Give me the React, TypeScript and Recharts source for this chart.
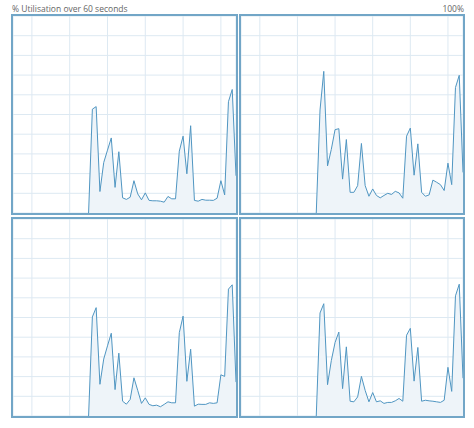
import React from "react";
import { AreaChart, Area, XAxis, YAxis, CartesianGrid } from "recharts";

// seconds shown in the window (0 = oldest, 59 = now)
const windowSeconds = 60;
// first second where samples exist
const firstSample = 20;
const gridSeconds = [5, 15, 25, 35, 45, 55];
const gridPercents = [0, 10, 20, 30, 40, 50, 60, 70, 80, 90, 100];

const headerLeft = "% Utilisation over 60 seconds";
const headerRight = "100%";

// per-core utilisation, seconds 20..59
const core0 = [
  0, 52.7, 54.0, 10.9, 25.6, 31.9, 38.1, 13.0, 31.1, 7.7,
  6.9, 8.0, 16.4, 9.7, 6.7, 10.2, 6.4, 6.2, 6.2, 6.0,
  5.5, 8.4, 7.2, 7.2, 31.4, 39.0, 19.9, 44.3, 6.4, 6.0,
  6.9, 6.5, 6.5, 6.4, 7.5, 16.4, 9.2, 56.5, 62.7, 18.9,
];
const core1 = [
  0, 52.3, 71.9, 23.9, 32.3, 42.3, 42.8, 17.2, 37.3, 10.5,
  10.5, 13.9, 35.3, 13.9, 8.5, 12.2, 8.9, 7.7, 8.9, 10.0,
  9.4, 11.0, 10.2, 7.5, 39.0, 43.1, 19.2, 35.1, 10.5, 8.5,
  9.2, 16.7, 15.6, 14.4, 11.4, 25.3, 14.4, 63.7, 69.9, 20.6,
];
const core2 = [
  0, 50.3, 55.0, 16.1, 28.9, 35.6, 42.0, 13.4, 31.9, 7.5,
  6.0, 8.4, 19.4, 13.0, 6.4, 9.2, 5.9, 5.2, 5.5, 4.7,
  5.9, 7.2, 6.7, 6.7, 42.3, 50.7, 17.6, 33.9, 5.0, 6.0,
  5.9, 5.9, 6.7, 6.4, 6.7, 20.9, 20.1, 64.4, 66.6, 17.2,
];
const core3 = [
  0, 52.3, 57.0, 15.9, 28.1, 37.3, 42.6, 13.9, 35.1, 7.5,
  7.2, 9.7, 20.1, 13.0, 7.2, 11.9, 7.2, 7.7, 6.4, 6.9,
  6.9, 7.7, 8.9, 7.5, 41.0, 44.5, 17.7, 34.8, 7.5, 8.0,
  7.7, 7.5, 7.2, 6.9, 8.0, 24.7, 12.5, 61.0, 66.9, 19.2,
];
const cores = [core0, core1, core2, core3];

const BORDER = "#72a6c7";
const LINE = "#5096c2";
const FILL = "#eef4f9";
const GRID = "#dde9f2";

const toRows = (values: number[]) => {
  const rows: { t: number; v: number | null }[] = [];
  for (let t = 0; t < windowSeconds; t++) {
    rows.push({ t, v: t < firstSample ? null : values[t - firstSample] });
  }
  return rows;
};

// panel outer boxes
const panels = [
  { left: 11, top: 14, width: 227, height: 201 },
  { left: 239, top: 14, width: 226, height: 201 },
  { left: 11, top: 217, width: 227, height: 201 },
  { left: 239, top: 217, width: 226, height: 201 },
];

const CorePanel: React.FC<{ values: number[]; box: typeof panels[0] }> = ({ values, box }) => {
  const w = box.width - 4;
  const h = box.height - 4;
  return (
    <div
      style={{
        position: "absolute",
        left: box.left,
        top: box.top,
        width: box.width,
        height: box.height,
        border: `2px solid ${BORDER}`,
        boxSizing: "border-box",
        overflow: "hidden",
      }}
    >
      <AreaChart width={w} height={h} data={toRows(values)} margin={{ top: 0, right: 0, left: 0, bottom: 0 }}>
        <CartesianGrid stroke={GRID} strokeWidth={1} />
        <XAxis dataKey="t" type="number" domain={[0, windowSeconds - 1]} ticks={gridSeconds} interval={0} hide />
        <YAxis type="number" domain={[0, 100]} ticks={gridPercents} interval={0} hide />
        <Area
          type="linear"
          dataKey="v"
          stroke={LINE}
          strokeWidth={1}
          fill={FILL}
          fillOpacity={1}
          isAnimationActive={false}
          dot={false}
          activeDot={false}
        />
      </AreaChart>
    </div>
  );
};

export default function App() {
  return (
    <div
      style={{
        position: "absolute",
        left: 0,
        top: 0,
        width: 474,
        height: 428,
        background: "#fff",
        fontFamily: "'Open Sans', 'Noto Sans', sans-serif",
      }}
    >
      <div style={{ position: "absolute", left: 12, top: 3, fontSize: 8.5, color: "#666", lineHeight: "12px" }}>
        {headerLeft}
      </div>
      <div style={{ position: "absolute", right: 10, top: 3, fontSize: 8.5, color: "#666", lineHeight: "12px" }}>
        {headerRight}
      </div>
      {cores.map((c, i) => (
        <CorePanel key={i} values={c} box={panels[i]} />
      ))}
    </div>
  );
}
